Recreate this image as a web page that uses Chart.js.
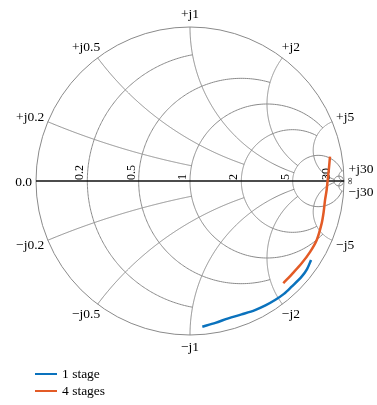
<!DOCTYPE html>
<html>
<head>
<meta charset="utf-8">
<script src="https://cdn.jsdelivr.net/npm/chart.js@4.4.1/dist/chart.umd.min.js"></script>
<style>
  body { margin: 0; background: #fff; }
  canvas { display: block; }
</style>
</head>
<body>
<canvas id="myChart" width="377" height="405"></canvas>
<script>
var oneStageRe = [0.080, 0.165, 0.249, 0.335, 0.422, 0.490, 0.552, 0.610, 0.660, 0.725, 0.760, 0.786];
var oneStageIm = [-0.946, -0.921, -0.892, -0.866, -0.838, -0.808, -0.773, -0.733, -0.686, -0.621, -0.572, -0.513];
var fourStageRe = [0.606, 0.665, 0.725, 0.780, 0.823, 0.855, 0.868, 0.877, 0.887, 0.894, 0.902, 0.909];
var fourStageIm = [-0.664, -0.601, -0.534, -0.460, -0.383, -0.275, -0.200, -0.123, -0.060, 0.006, 0.080, 0.158];

// grid circles: value and the value of the crossing circle where it stops
var gridValues = [0.2, 0.5, 1, 2, 5, 30];
var gridEnds = [1, 2, 5, 5, 30, Infinity];
var gridLabels = ['0.2', '0.5', '1', '2', '5', '30'];

function toPoints(re, im) {
  return re.map(function (v, i) { return {x: v, y: im[i]}; });
}

// z = r + jx  ->  gamma = (z-1)/(z+1)
function gamma(r, x) {
  var den = (r + 1) * (r + 1) + x * x;
  return [(r * r - 1 + x * x) / den, (2 * x) / den];
}

var smithGrid = {
  id: 'smithGrid',
  beforeDatasetsDraw: function (chart) {
    var ctx = chart.ctx;
    var xs = chart.scales.x, ys = chart.scales.y;
    function px(g) { return [xs.getPixelForValue(g[0]), ys.getPixelForValue(g[1])]; }
    function path(fn, a, b) {
      ctx.beginPath();
      for (var i = 0; i <= 240; i++) {
        var t = a + (b - a) * i / 240;
        var p = px(fn(t));
        if (i === 0) ctx.moveTo(p[0], p[1]); else ctx.lineTo(p[0], p[1]);
      }
      ctx.stroke();
    }
    ctx.save();
    ctx.strokeStyle = '#8a8a8a';
    ctx.lineWidth = 1;

    gridValues.forEach(function (v, i) {
      var lim = Math.atan(gridEnds[i]);
      // constant resistance
      path(function (t) { return gamma(v, Math.tan(t)); }, -lim, lim);
      // constant reactance, both halves
      path(function (t) { return gamma(Math.tan(t), v); }, 0, lim);
      path(function (t) { return gamma(Math.tan(t), -v); }, 0, lim);
    });

    // outer circle
    var c = px([0, 0]);
    var R = xs.getPixelForValue(1) - c[0];
    ctx.beginPath();
    ctx.arc(c[0], c[1], R, 0, Math.PI * 2);
    ctx.stroke();

    // real axis
    ctx.strokeStyle = '#111';
    ctx.lineWidth = 1.3;
    ctx.beginPath();
    ctx.moveTo(xs.getPixelForValue(-1), c[1]);
    ctx.lineTo(xs.getPixelForValue(1), c[1]);
    ctx.stroke();

    ctx.fillStyle = '#000';
    // resistance labels along the axis
    ctx.font = '12px "Liberation Serif"';
    gridValues.forEach(function (v, i) {
      var x0 = xs.getPixelForValue((v - 1) / (v + 1));
      ctx.save();
      ctx.translate(x0 - 1, c[1] - 1);
      ctx.rotate(-Math.PI / 2);
      ctx.textAlign = 'left';
      ctx.textBaseline = 'bottom';
      ctx.fillText(gridLabels[i], 0, 0);
      ctx.restore();
    });
    ctx.save();
    ctx.font = '10px "Liberation Serif"';
    ctx.translate(xs.getPixelForValue(1) + 6, c[1]);
    ctx.rotate(-Math.PI / 2);
    ctx.textAlign = 'center';
    ctx.textBaseline = 'middle';
    ctx.fillText('\u221e', 0, 0);
    ctx.restore();

    ctx.font = '13.5px "Liberation Serif"';
    ctx.textAlign = 'right';
    ctx.textBaseline = 'middle';
    ctx.fillText('0.0', xs.getPixelForValue(-1) - 4, c[1] + 1);

    // reactance labels round the rim
    ctx.textAlign = 'center';
    gridValues.forEach(function (v, i) {
      [1, -1].forEach(function (s) {
        var g = gamma(0, s * v);
        var p = px(g);
        var txt = (s > 0 ? '+j' : '\u2212j') + gridLabels[i];
        var w = ctx.measureText(txt).width;
        var cx = p[0] + g[0] * (w / 2 + 5);
        var cy = p[1] - g[1] * 12.5;
        ctx.fillText(txt, cx, cy);
      });
    });
    ctx.restore();
  },
  afterDraw: function (chart) {
    var ctx = chart.ctx;
    ctx.save();
    ctx.font = '13.5px "Liberation Serif"';
    ctx.textBaseline = 'middle';
    ctx.textAlign = 'left';
    chart.data.datasets.forEach(function (ds, i) {
      var y = 374 + i * 17;
      ctx.strokeStyle = ds.borderColor;
      ctx.lineWidth = 2;
      ctx.beginPath();
      ctx.moveTo(35, y);
      ctx.lineTo(57, y);
      ctx.stroke();
      ctx.fillStyle = '#000';
      ctx.fillText(ds.label, 62, y);
    });
    ctx.restore();
  }
};

var ctx = document.getElementById('myChart').getContext('2d');
var myChart = new Chart(ctx, {
  type: 'scatter',
  data: {
    datasets: [{
      label: '1 stage',
      data: toPoints(oneStageRe, oneStageIm),
      borderColor: '#0a72bd',
      borderWidth: 2.5,
      showLine: true,
      pointRadius: 0,
      tension: 0.3
    }, {
      label: '4 stages',
      data: toPoints(fourStageRe, fourStageIm),
      borderColor: '#e35b26',
      borderWidth: 2.5,
      showLine: true,
      pointRadius: 0,
      tension: 0.3
    }]
  },
  options: {
    responsive: false,
    animation: false,
    layout: { padding: { left: 36, right: 33, top: 27, bottom: 70 } },
    plugins: {
      legend: { display: false },
      tooltip: { enabled: false }
    },
    scales: {
      x: { type: 'linear', min: -1, max: 1, display: false },
      y: { type: 'linear', min: -1, max: 1, display: false }
    }
  },
  plugins: [smithGrid]
});
</script>
</body>
</html>
